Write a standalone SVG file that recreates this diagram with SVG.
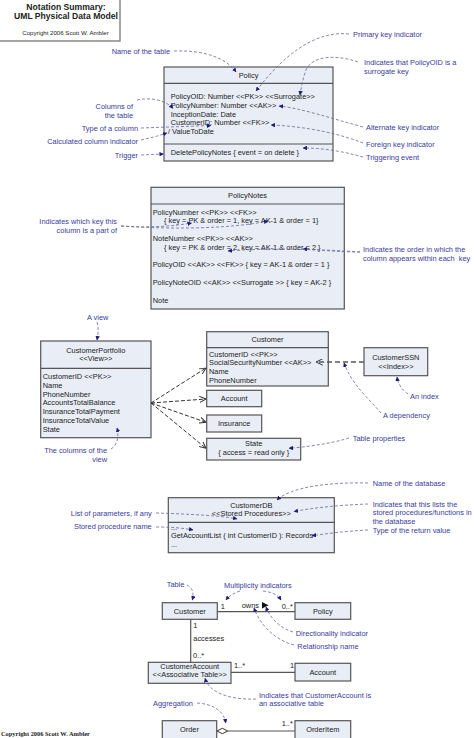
<svg xmlns="http://www.w3.org/2000/svg" width="474" height="738" viewBox="0 0 474 738">
<style>
text{font-family:"Liberation Sans",Arial,sans-serif;font-size:7.4px;fill:#222;white-space:pre}
.lb{fill:#3a3a9c}
.e{text-anchor:end}
.m{text-anchor:middle}
.box{fill:#e8edf6;stroke:#555;stroke-width:1.2}
.sep{stroke:#555;stroke-width:1.2}
.ann{fill:none;stroke:#6a6a98;stroke-width:0.8;stroke-dasharray:3 2;marker-end:url(#ah)}
.dep{fill:none;stroke:#333;stroke-width:1;stroke-dasharray:4 2;marker-end:url(#open)}
.ln{fill:none;stroke:#555;stroke-width:1.2}
</style>
<defs>
<marker id="ah" viewBox="0 0 10 10" refX="9" refY="5" markerWidth="4.5" markerHeight="4.5" markerUnits="userSpaceOnUse" orient="auto">
<path d="M0,0 L10,5 L0,10 z" fill="#1e1e78"/>
</marker>
<marker id="open" viewBox="0 0 10 10" refX="9.5" refY="5" markerWidth="7" markerHeight="7" markerUnits="userSpaceOnUse" orient="auto">
<path d="M0,0.5 L9.5,5 L0,9.5" fill="none" stroke="#333" stroke-width="1.4"/>
</marker>
</defs>
<rect width="474" height="738" fill="#fff"/>

<g id="title">
<rect x="-1" y="-1" width="121" height="42" fill="#fff" stroke="#888" stroke-width="1.5"/>
<text x="66" y="10" class="m" style="font-weight:bold;font-size:8.6px">Notation Summary:</text>
<text x="66" y="18.8" class="m" style="font-weight:bold;font-size:8.6px">UML Physical Data Model</text>
<text x="65.5" y="35" class="m" style="font-size:6.1px">Copyright 2006 Scott W. Ambler</text>
</g>

<g id="policy">
<rect class="box" x="164" y="67" width="169" height="94"/>
<line class="sep" x1="164" y1="83.3" x2="333" y2="83.3"/>
<line class="sep" x1="164" y1="144" x2="333" y2="144"/>
<text x="248.5" y="77.7" class="m">Policy</text>
<text x="170.7" y="99.4">PolicyOID: Number &lt;&lt;PK&gt;&gt; &lt;&lt;Surrogate&gt;&gt;</text>
<text x="170.7" y="107.9">PolicyNumber: Number &lt;&lt;AK&gt;&gt;</text>
<text x="170.7" y="116.5">InceptionDate: Date</text>
<text x="170.7" y="125">CustomerID: Number &lt;&lt;FK&gt;&gt;</text>
<text x="168" y="133.6">/ ValueToDate</text>
<text x="170.7" y="155.3">DeletePolicyNotes { event = on delete }</text>
</g>

<g id="policynotes">
<rect class="box" x="151" y="187.3" width="193.3" height="121.7"/>
<line class="sep" x1="151" y1="204" x2="344.3" y2="204"/>
<text x="247.5" y="197.7" class="m">PolicyNotes</text>
<text x="152.7" y="215">PolicyNumber &lt;&lt;PK&gt;&gt; &lt;&lt;FK&gt;&gt;</text>
<text x="164" y="223.4">{ key = PK &amp; order = 1, key = AK-1 &amp; order = 1}</text>
<text x="152.7" y="241">NoteNumber &lt;&lt;PK&gt;&gt; &lt;&lt;AK&gt;&gt;</text>
<text x="164" y="250">{ key = PK &amp; order = 2, key = AK-1 &amp; order = 2 }</text>
<text x="152.7" y="266.7">PolicyOID &lt;&lt;AK&gt;&gt; &lt;&lt;FK&gt;&gt; { key = AK-1 &amp; order = 1 }</text>
<text x="152.7" y="285">PolicyNoteOID &lt;&lt;AK&gt;&gt; &lt;&lt;Surrogate &gt;&gt; { key = AK-2 }</text>
<text x="152.7" y="302.7">Note</text>
</g>

<g id="customerportfolio">
<rect class="box" x="40.7" y="341" width="110.3" height="96.7"/>
<line class="sep" x1="40.7" y1="368.3" x2="151" y2="368.3"/>
<text x="95.8" y="352.7" class="m">CustomerPortfolio</text>
<text x="95.8" y="361" class="m">&lt;&lt;View&gt;&gt;</text>
<text x="42.7" y="378.7">CustomerID &lt;&lt;PK&gt;&gt;</text>
<text x="42.7" y="387.6">Name</text>
<text x="42.7" y="396.5">PhoneNumber</text>
<text x="42.7" y="405.4">AccountsTotalBalance</text>
<text x="42.7" y="414.3">InsuranceTotalPayment</text>
<text x="42.7" y="423.2">InsuranceTotalValue</text>
<text x="42.7" y="432.1">State</text>
</g>

<g id="customer">
<rect class="box" x="206.7" y="331.7" width="121.6" height="54.3"/>
<line class="sep" x1="206.7" y1="347.7" x2="328.3" y2="347.7"/>
<text x="267.5" y="342" class="m">Customer</text>
<text x="209" y="356.7">CustomerID &lt;&lt;PK&gt;&gt;</text>
<text x="209" y="365">SocialSecurityNumber &lt;&lt;AK&gt;&gt;</text>
<text x="209" y="373.7">Name</text>
<text x="209" y="382.5">PhoneNumber</text>
</g>

<g id="account">
<rect class="box" x="206.7" y="390.3" width="55" height="16.4"/>
<text x="234.2" y="401.2" class="m">Account</text>
</g>

<g id="insurance">
<rect class="box" x="206.7" y="415" width="55" height="17"/>
<text x="234.2" y="426.2" class="m">Insurance</text>
</g>

<g id="state">
<rect class="box" x="206.7" y="438.3" width="94" height="21.7"/>
<text x="253.7" y="446" class="m">State</text>
<text x="253.7" y="455.4" class="m">{ access = read only }</text>
</g>

<g id="customerssn">
<rect class="box" x="364" y="347.7" width="63.7" height="28"/>
<text x="395.8" y="360" class="m">CustomerSSN</text>
<text x="395.8" y="368.7" class="m">&lt;&lt;Index&gt;&gt;</text>
</g>

<g id="customerdb">
<rect class="box" x="168.3" y="497.7" width="166" height="55"/>
<line class="sep" x1="168.3" y1="522.3" x2="334.3" y2="522.3"/>
<text x="251.3" y="507.7" class="m">CustomerDB</text>
<text x="251.3" y="516" class="m">&lt;&lt;Stored Procedures&gt;&gt;</text>
<text x="171" y="530">...</text>
<text x="171" y="538.4">GetAccountList ( int CustomerID ): Records</text>
<text x="171" y="547">...</text>
</g>

<g id="b-customer">
<rect class="box" x="162.3" y="602.7" width="55" height="16.6"/>
<text x="189.8" y="613.6" class="m">Customer</text>
</g>
<g id="b-policy">
<rect class="box" x="295" y="602.7" width="55.7" height="16.6"/>
<text x="322.8" y="613.6" class="m">Policy</text>
</g>
<g id="b-customeraccount">
<rect class="box" x="148.3" y="662.3" width="82.7" height="21"/>
<text x="189.7" y="668.7" class="m">CustomerAccount</text>
<text x="189.7" y="677" class="m">&lt;&lt;Associative Table&gt;&gt;</text>
</g>
<g id="b-account">
<rect class="box" x="295" y="663.3" width="55.7" height="17.7"/>
<text x="322.8" y="674.7" class="m">Account</text>
</g>
<g id="b-order">
<rect class="box" x="162.3" y="720.7" width="54.4" height="20"/>
<text x="189.5" y="731.7" class="m">Order</text>
</g>
<g id="b-orderitem">
<rect class="box" x="295" y="720.7" width="55.7" height="20"/>
<text x="322.8" y="731.7" class="m">OrderItem</text>
</g>

<g id="connectors">
<path class="dep" d="M151,403 L206,368"/>
<path class="dep" d="M151,403 L206,399"/>
<path class="dep" d="M151,403 L206,422.3"/>
<path class="dep" d="M151,403 L206,448.3"/>
<path d="M364,362 L316,362" fill="none" stroke="#555" stroke-width="1.6" stroke-dasharray="5 3" marker-end="url(#open)"/>
<path class="ln" d="M217.3,611.7 L295,611.7"/>
<polygon points="262,602 262,608.5 268.5,605.2" fill="#111"/>
<path class="ln" d="M190.7,619.3 L190.7,662.3"/>
<path class="ln" d="M231,672.3 L295,672.3"/>
<path class="ln" d="M228,731 L295,731"/>
<polygon points="217,731 222.3,728.3 227.8,731 222.3,733.7" fill="#fff" stroke="#333" stroke-width="1"/>
<text x="220.7" y="608.7">1</text>
<text x="241.7" y="607.7">owns</text>
<text x="281.7" y="609">0..*</text>
<text x="193.3" y="627.7">1</text>
<text x="193.3" y="641">accesses</text>
<text x="193" y="658.4">0..*</text>
<text x="234" y="668.4">1..*</text>
<text x="290" y="668.4">1</text>
<text x="281.7" y="726">1..*</text>

<path class="ann" d="M174,51 C205,50 226,58 236,72"/>
<path class="ann" d="M349,34 C312,30 280,60 256,91"/>
<path class="ann" d="M358,62 C335,54 312,56 306,70 C303,78 301,88 300,95"/>
<path class="ann" d="M363,127 C330,118 300,108 279,106"/>
<path class="ann" d="M363,143 C335,132 300,126 271,125"/>
<path class="ann" d="M363,157 C345,152 325,148 303,148"/>
<path class="ann" d="M137,100 C150,97 166,100 173,108.5"/>
<path class="ann" d="M141,128 L211,125.5"/>
<path class="ann" d="M141,140 C150,138 158,136 167,133"/>
<path class="ann" d="M141,155 L163.5,154"/>
<path class="ann" d="M121,226 C150,228 175,226 191.5,223"/>
<path class="ann" d="M121,226 C180,230 235,228 268,221"/>
<path class="ann" d="M360,252 C340,252 320,250 303,249"/>
<path class="ann" d="M360,252 C320,249 260,248 228,251"/>
<path class="ann" d="M97,322 C99,328 98,334 97,340"/>
<path class="ann" d="M111,449 C118,445 119,435 117,428"/>
<path class="ann" d="M408,394 C402,390 398,384 397,377"/>
<path class="ann" d="M381,413 C370,400 352,385 344,363"/>
<path class="ann" d="M349,438 C330,444 305,447 289,448.3"/>
<path class="ann" d="M368,483 C330,482 290,487 277,500"/>
<path class="ann" d="M368,504 C340,505 310,508 294,511.7"/>
<path class="ann" d="M368,530 C345,531 325,534 312,535.7"/>
<path class="ann" d="M156,513 C190,514 225,516 237,519"/>
<path class="ann" d="M156,527 C170,527 183,528 193,530"/>
<path class="ann" d="M187,585 C193,588 194,594 192.3,600"/>
<path class="ann" d="M240,591 C234,593 229,596 226,600"/>
<path class="ann" d="M263,591 C272,592 278,595 281,600"/>
<path class="ann" d="M293,632 C280,628 270,618 266,607"/>
<path class="ann" d="M294,645 C275,640 260,625 254,608"/>
<path class="ann" d="M256,699 C235,700 210,695 205,678.3"/>
<path class="ann" d="M197,703 C212,704 224,710 225.7,723"/>
</g>

<g id="labels">
<text class="lb e" x="170" y="53.6">Name of the table</text>
<text class="lb e" x="133" y="109.4">Columns of</text>
<text class="lb e" x="133" y="118.4">the table</text>
<text class="lb e" x="138" y="131">Type of a column</text>
<text class="lb e" x="138" y="143.7">Calculated column indicator</text>
<text class="lb e" x="138" y="158.4">Trigger</text>
<text class="lb" x="353" y="36.7">Primary key indicator</text>
<text class="lb" x="364" y="65.4">Indicates that PolicyOID is a</text>
<text class="lb" x="364" y="74.4">surrogate key</text>
<text class="lb" x="366" y="130.4">Alternate key indicator</text>
<text class="lb" x="366" y="147">Foreign key indicator</text>
<text class="lb" x="366" y="160.4">Triggering event</text>
<text class="lb e" x="117" y="224.4">Indicates which key this</text>
<text class="lb e" x="117" y="233.4">column is a part of</text>
<text class="lb" x="363" y="252">Indicates the order in which the</text>
<text class="lb" x="363" y="261">column appears within each  key</text>
<text class="lb" x="87" y="320.4">A view</text>
<text class="lb e" x="107" y="452.7">The columns of the</text>
<text class="lb e" x="107" y="461.7">view</text>
<text class="lb" x="410" y="398.7">An index</text>
<text class="lb" x="383" y="418.4">A dependency</text>
<text class="lb" x="352.7" y="441">Table properties</text>
<text class="lb e" x="151.7" y="516">List of parameters, if any</text>
<text class="lb e" x="151.7" y="529.4">Stored procedure name</text>
<text class="lb" x="372.7" y="486">Name of the database</text>
<text class="lb" x="372.7" y="506.7">Indicates that this lists the</text>
<text class="lb" x="372.7" y="515">stored procedures/functions in</text>
<text class="lb" x="372.7" y="523.7">the database</text>
<text class="lb" x="372.7" y="532.7">Type of the return value</text>
<text class="lb" x="166.7" y="586.7">Table</text>
<text class="lb" x="224" y="588.4">Multiplicity indicators</text>
<text class="lb" x="295.7" y="636">Directionality indicator</text>
<text class="lb" x="297.3" y="649.4">Relationship name</text>
<text class="lb" x="259" y="697.7">Indicates that CustomerAccount is</text>
<text class="lb" x="259" y="706">an associative table</text>
<text class="lb" x="153" y="706">Aggregation</text>
</g>

<text x="1" y="735.5" style="font-family:'Liberation Serif','Times New Roman',serif;font-weight:bold;font-size:6.4px">Copyright 2006 Scott W. Ambler</text>
</svg>
